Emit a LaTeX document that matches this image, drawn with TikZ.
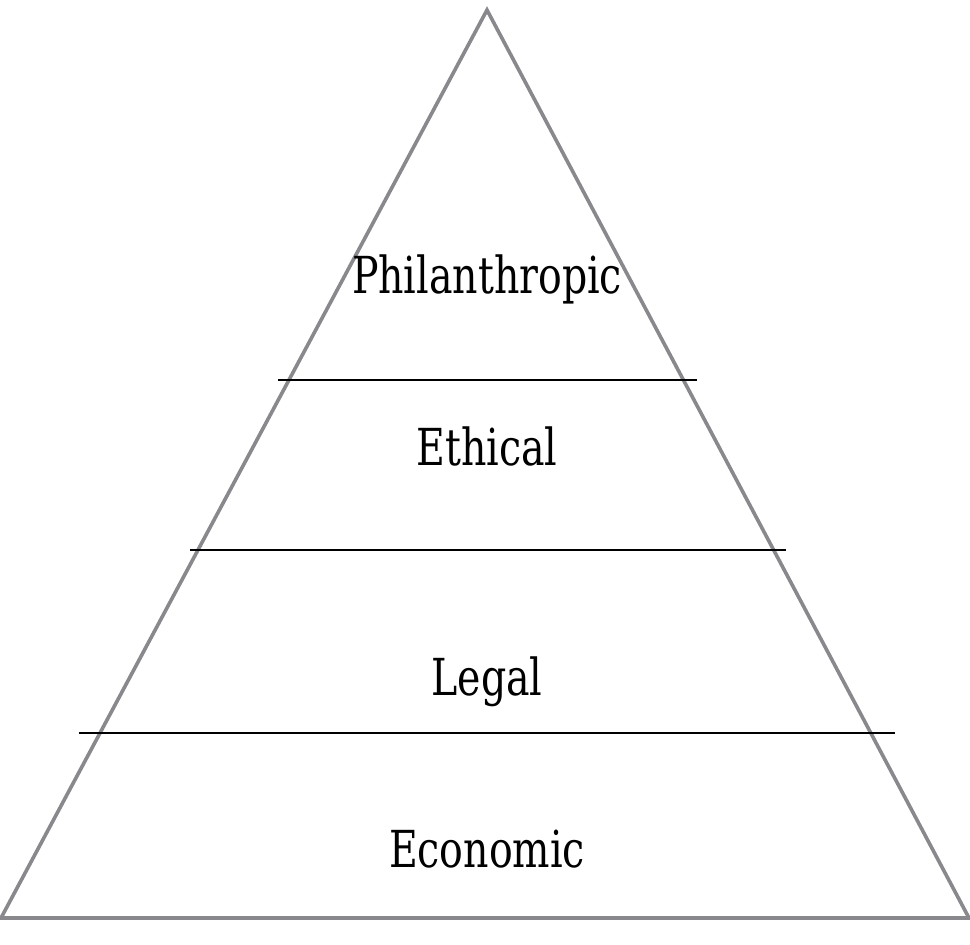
\documentclass[tikz,border=0pt]{standalone}
\usepackage{fontspec}
\setmainfont[FakeStretch=0.86]{DejaVu Serif Condensed}
\usepackage{xcolor}
\usetikzlibrary{positioning}
\definecolor{pyrgray}{RGB}{136,136,141}

\begin{document}
\begin{tikzpicture}[x=1pt, y=-1pt,
    level/.style={font=\fontsize{51}{60}\selectfont, anchor=base, inner sep=0pt},
    divider/.style={draw=black, line width=1.8pt}]
  \useasboundingbox (0,0) rectangle (970,945);
  \coordinate (top) at (487,10);
  \coordinate (bl) at (1,918);
  \coordinate (br) at (969,918);
  \draw[pyrgray, line width=3.6pt, line join=miter] (top) -- (br) -- (bl) -- cycle;
  \coordinate (d1l) at (278,380);
  \coordinate (d1r) at (697,380);
  \coordinate (d2l) at (190,550);
  \coordinate (d2r) at (786,550);
  \coordinate (d3l) at (79,733);
  \coordinate (d3r) at (895,733);
  \draw[divider] (d1l) -- (d1r);
  \draw[divider] (d2l) -- (d2r);
  \draw[divider, line width=2.6pt] (d3l) -- (d3r);
  \node[level] (phil) at (487,293) {Philanthropic};
  \node[level] (eth) at (487,465) {Ethical};
  \node[level] (leg) at (487,695) {Legal};
  \node[level] (eco) at (487,867) {Economic};
\end{tikzpicture}
\end{document}
